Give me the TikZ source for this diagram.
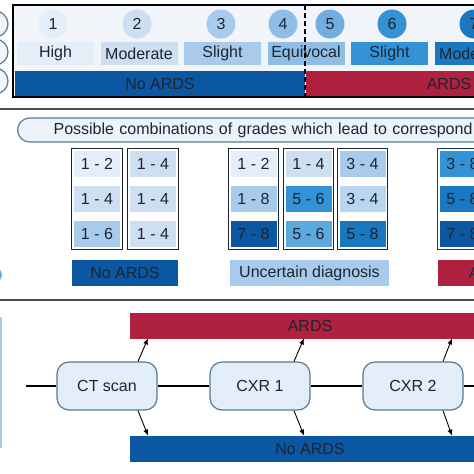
\documentclass[tikz,border=0pt]{standalone}
\usepackage{fontspec}
\setmainfont{Liberation Sans}
\usetikzlibrary{positioning,fit,arrows.meta}

\definecolor{txt}{HTML}{1C2533}
\definecolor{panel}{HTML}{F1F5FA}
\definecolor{edgeblue}{HTML}{557A98}
\definecolor{shadeA}{HTML}{E4EEF8}
\definecolor{shadeB}{HTML}{CDDFF1}
\definecolor{shadeC}{HTML}{A8CBEB}
\definecolor{shadeD}{HTML}{8EBDE5}
\definecolor{shadeE}{HTML}{72ADDF}
\definecolor{shadeF}{HTML}{3393D4}
\definecolor{shadeG}{HTML}{1A78C0}
\definecolor{noards}{HTML}{0B57A2}
\definecolor{ards}{HTML}{AF213F}

\begin{document}
\begin{tikzpicture}[x=1pt, y=-1pt, font=\fontsize{16}{19}\selectfont, text=txt,
  >={Latex[length=6pt,width=5pt]},
  grade/.style={shape=circle, minimum size=29pt, inner sep=0pt},
  gradetag/.style={shape=rectangle, minimum width=77pt, minimum height=23pt, inner sep=0pt},
  cell/.style={shape=rectangle, minimum width=46pt, minimum height=26pt, inner sep=0pt},
  colframe/.style={shape=rectangle, draw=txt, line width=1.3pt, inner sep=2pt},
  result/.style={shape=rectangle, minimum height=26pt, inner sep=0pt},
  exam/.style={shape=rectangle, rounded corners=12pt, draw=edgeblue, line width=1.2pt, fill=shadeA, minimum width=100pt, minimum height=48pt}]
\useasboundingbox (0,0) rectangle (474,474);

% grading scale
\fill[panel] (13,5) rectangle (480,71);
\node [shape=circle, draw=edgeblue, fill=panel, line width=1.2pt, minimum size=26pt] (k1) at (-5,24) {};
\node [shape=circle, draw=edgeblue, fill=panel, line width=1.2pt, minimum size=26pt] (k2) at (-5,52) {};
\node [shape=circle, draw=edgeblue, fill=panel, line width=1.2pt, minimum size=26pt] (k3) at (-5,81) {};

\node [grade, fill=shadeA] (G1) at (53,24) {1};
\node [grade, fill=shadeB, right of=G1, node distance=84pt] (G2) {2};
\node [grade, fill=shadeC, right of=G2, node distance=84pt] (G3) {3};
\node [grade, fill=shadeD] (G4) at (283,24) {4};
\node [grade, fill=shadeE] (G5) at (330,24) {5};
\node [grade, fill=shadeF] (G6) at (392,24) {6};
\node [grade, fill=shadeG] (G7) at (474,24) {7};

\node [gradetag, fill=shadeA] (T1) at (55.5,53.5) {High};
\node [gradetag, fill=shadeB, right of=T1, node distance=83.5pt] (T2) {Moderate};
\node [gradetag, fill=shadeC, right of=T2, node distance=83.5pt] (T3) {Slight};
\node [gradetag, fill=shadeD, right of=T3, node distance=83.5pt] (T4) {Equivocal};
\node [gradetag, fill=shadeF, right of=T4, node distance=83.5pt] (T5) {Slight};
\node [gradetag, fill=shadeG, right of=T5, node distance=83.5pt] (T6) {Moderate};

\node [shape=rectangle, fill=noards, minimum width=290pt, minimum height=26pt, inner sep=0pt] (Bno) at (160,84) {No ARDS};
\node [shape=rectangle, fill=ards, minimum width=286pt, minimum height=26pt, inner sep=0pt] (Byes) at (449,84) {ARDS};

\draw[line width=1.4pt] (480,5) -- (13,5) -- (13,97) -- (480,97);
\draw[line width=1.3pt, dash pattern=on 5pt off 3pt] (305,5) -- (305,97);

\draw[black!70, line width=1.2pt] (0,109) -- (474,109);

% combinations
\node [shape=rectangle, rounded corners=12pt, draw=edgeblue, line width=1.2pt, fill=shadeA!70!white, minimum height=24pt, inner ysep=0pt, inner xsep=36pt, text width=460pt, align=left, anchor=west] (combo) at (17,130) {Possible combinations of grades which lead to correspond};

\node [cell, fill=shadeA] (c1a) at (97,164) {1 - 2};
\node [cell, fill=shadeB, below of=c1a, node distance=35pt] (c1b) {1 - 4};
\node [cell, fill=shadeC, below of=c1b, node distance=35pt] (c1c) {1 - 6};
\node [colframe, fit=(c1a)(c1c)] (col1) {};

\node [cell, fill=shadeB] (c2a) at (153,164) {1 - 4};
\node [cell, fill=shadeB, below of=c2a, node distance=35pt] (c2b) {1 - 4};
\node [cell, fill=shadeB, below of=c2b, node distance=35pt] (c2c) {1 - 4};
\node [colframe, fit=(c2a)(c2c)] (col2) {};

\node [cell, fill=shadeA] (c3a) at (253.5,164) {1 - 2};
\node [cell, fill=shadeC, below of=c3a, node distance=35pt] (c3b) {1 - 8};
\node [cell, fill=noards, below of=c3b, node distance=35pt] (c3c) {7 - 8};
\node [colframe, fit=(c3a)(c3c)] (col3) {};

\node [cell, fill=shadeB] (c4a) at (308.5,164) {1 - 4};
\node [cell, fill=shadeF, below of=c4a, node distance=35pt] (c4b) {5 - 6};
\node [cell, fill=shadeF!80!white, below of=c4b, node distance=35pt] (c4c) {5 - 6};
\node [colframe, fit=(c4a)(c4c)] (col4) {};

\node [cell, fill=shadeC] (c5a) at (362.5,164) {3 - 4};
\node [cell, fill=shadeC!80!white, below of=c5a, node distance=35pt] (c5b) {3 - 4};
\node [cell, fill=shadeG, below of=c5b, node distance=35pt] (c5c) {5 - 8};
\node [colframe, fit=(c5a)(c5c)] (col5) {};

\node [cell, fill=shadeF] (c6a) at (462.5,164) {3 - 8};
\node [cell, fill=shadeG, below of=c6a, node distance=35pt] (c6b) {5 - 8};
\node [cell, fill=noards, below of=c6b, node distance=35pt] (c6c) {7 - 8};
\node [colframe, draw=noards!70!black, fit=(c6a)(c6c)] (col6) {};

\node [shape=circle, fill=shadeE, minimum size=14pt] (k4) at (-5,275) {};
\node [result, fill=noards, minimum width=106pt] (R1) at (125,273) {No ARDS};
\node [result, fill=shadeC, minimum width=159pt] (R2) at (309.5,273) {Uncertain diagnosis};
\node [result, fill=ards, minimum width=106pt] (R3) at (491,273) {ARDS};

\draw[black!70, line width=1.2pt] (0,300) -- (474,300);

% imaging timeline
\draw[shadeC, line width=1.5pt] (-60,318) rectangle (1,447);
\node [result, fill=ards, minimum width=360pt] (top) at (310,326) {ARDS};
\node [result, fill=noards, minimum width=360pt] (bottom) at (310,448.5) {No ARDS};

\node [exam] (CT) at (107,386) {CT scan};
\node [exam, right of=CT, node distance=153pt] (X1) {CXR 1};
\node [exam, right of=X1, node distance=153pt] (X2) {CXR 2};
\coordinate (begin) at (26,386);
\coordinate (end) at (480,386);

\draw[line width=1.8pt] (begin) -- (CT);
\draw[line width=1.8pt] (CT) -- (X1);
\draw[line width=1.8pt] (X1) -- (X2);
\draw[line width=1.8pt] (X2) -- (end);

\draw[->, line width=0.9pt] ([xshift=31pt]CT.north) -- ([xshift=41pt, yshift=23pt]CT.north);
\draw[->, line width=0.9pt] ([xshift=31pt]CT.south) -- ([xshift=41pt, yshift=-25pt]CT.south);
\draw[->, line width=0.9pt] ([xshift=34pt]X1.north) -- ([xshift=44pt, yshift=23pt]X1.north);
\draw[->, line width=0.9pt] ([xshift=34pt]X1.south) -- ([xshift=44pt, yshift=-25pt]X1.south);
\draw[->, line width=0.9pt] ([xshift=30pt]X2.north) -- ([xshift=39pt, yshift=23pt]X2.north);
\draw[->, line width=0.9pt] ([xshift=30pt]X2.south) -- ([xshift=39pt, yshift=-25pt]X2.south);
\end{tikzpicture}
\end{document}
